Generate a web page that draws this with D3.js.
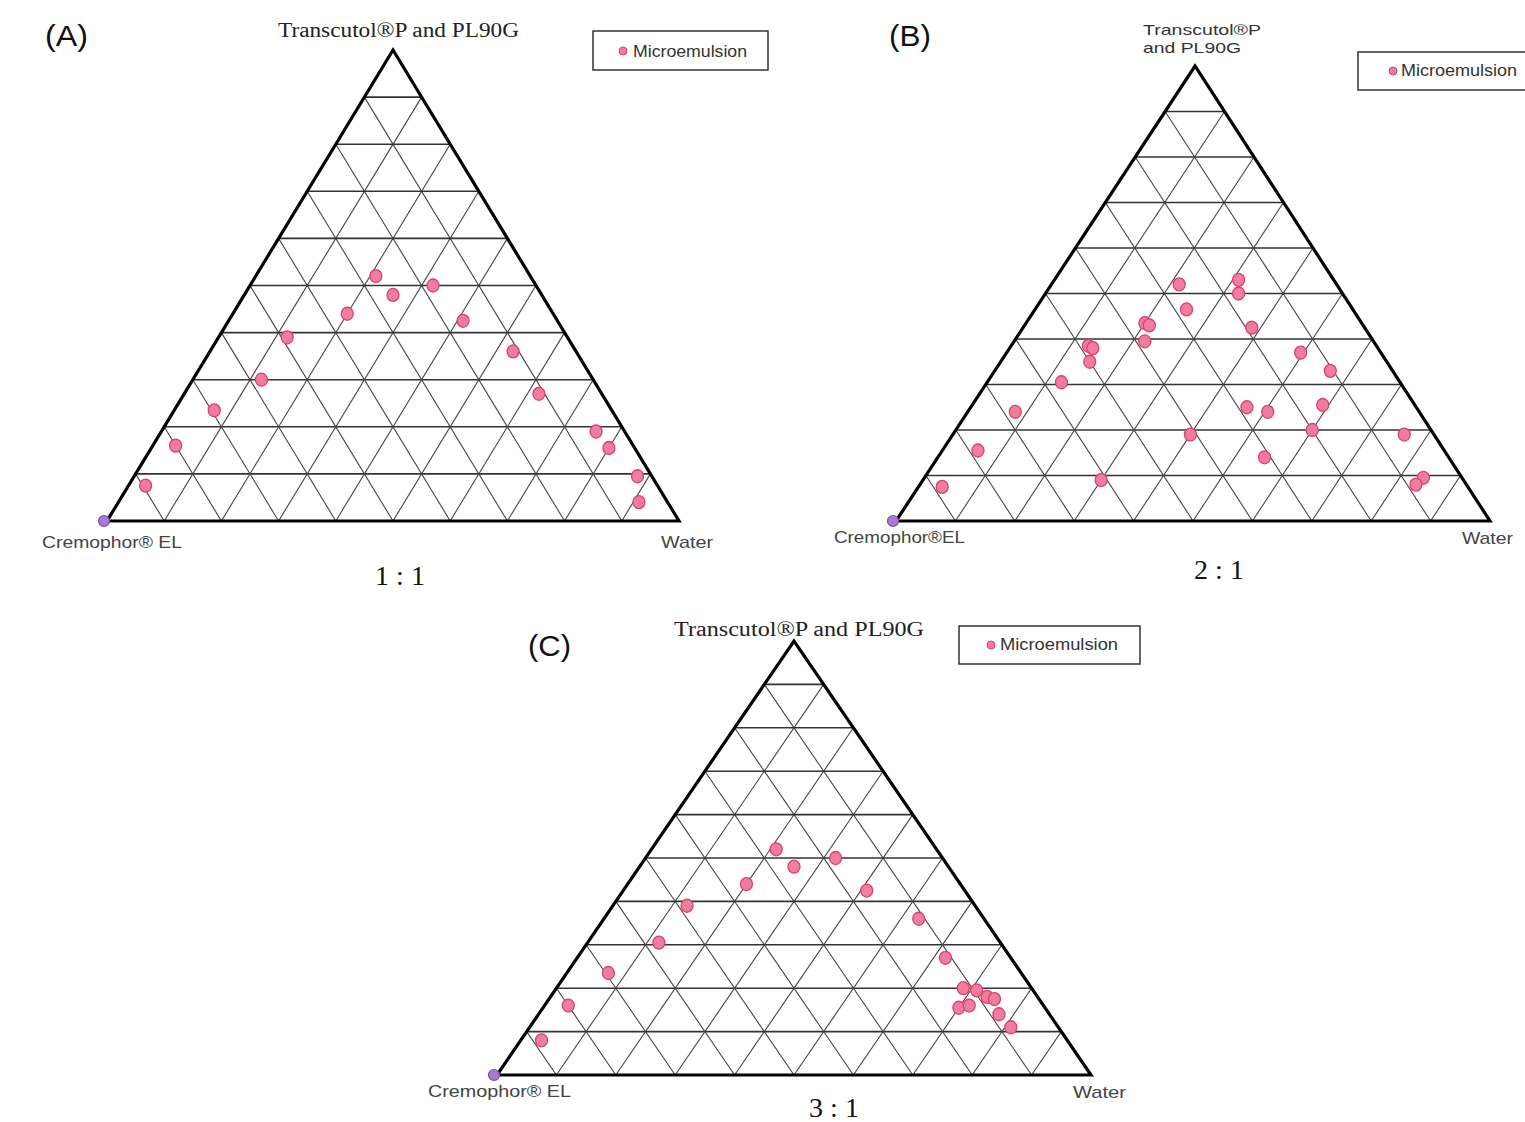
<!DOCTYPE html>
<html>
<head>
<meta charset="utf-8">
<script src="https://cdn.jsdelivr.net/npm/d3@7"></script>
<style>
  html, body { margin: 0; padding: 0; background: #fff; }
  svg { display: block; }
</style>
</head>
<body>
<svg id="chart" width="1525" height="1122"></svg>
<script>
// ---- Data (percent) ----
const gridTicks = [10, 20, 30, 40, 50, 60, 70, 80, 90];
const vertexLabels = ["Cremophor® EL", "Water", "Transcutol®P and PL90G"];
const ratioLabels = ["1 : 1", "2 : 1", "3 : 1"];
const panelLetters = ["(A)", "(B)", "(C)"];
const legendLabel = "Microemulsion";

// Panel A (1:1) — Transcutol®P and PL90G %, Water %
const a_transcutol = [52, 50, 48, 44, 42.5, 39, 36, 30, 27, 23.5, 19, 16, 15.5, 9.5, 7.5, 4];
const a_water      = [21, 32, 26, 20, 41, 12, 53, 12, 62, 7, 76, 4, 80, 88, 3, 91];

// Panel B (2:1)
const b_transcutol = [52, 53, 50, 46.5, 43.5, 43, 42.5, 39.5, 38.5, 38, 35, 37, 33, 30.5, 24, 25, 24, 25.5, 19, 20, 19, 15.5, 14, 7.5, 9, 9.5, 8];
const b_water      = [21.5, 31, 32.5, 25.5, 20, 21, 38.5, 22, 13, 14, 15, 49.5, 56.5, 12.5, 8, 46.5, 50.5, 59, 40, 60, 76, 6, 55, 4, 30, 84, 83.5];

// Panel C (3:1)
const c_transcutol = [52, 50, 48, 44, 42.5, 39, 36, 30.5, 27, 23.5, 20, 19.5, 18, 17.5, 15.5, 16, 14, 16, 11, 8];
const c_water      = [21, 32, 26, 20, 41, 12.5, 53, 12, 62, 7, 68.5, 71, 73.5, 75, 70, 71.5, 77.5, 4, 81, 3.5];

// ---- Layout ----
const panels = [
  { letter: panelLetters[0], oil: a_transcutol, water: a_water, ratio: ratioLabels[0],
    bl: [107, 521], br: [679, 521], top: [393, 50],
    letterPos: [45, 46], letterLen: 43,
    title: { type: "serif", x: 278, y: 37, len: 241, size: 20 },
    legend: { x: 593, y: 31, w: 175, h: 39, mx: 623, my: 51, tx: 633, ty: 57, tlen: 114 },
    cremo: { x: 42, y: 548, len: 140 }, waterL: { x: 661, y: 548, len: 52 },
    ratioPos: [400, 585] },
  { letter: panelLetters[1], oil: b_transcutol, water: b_water, ratio: ratioLabels[1],
    bl: [896, 521], br: [1490, 521], top: [1195, 66],
    letterPos: [889, 46], letterLen: 42,
    title: { type: "sans", x: 1143, y: 35, y2: 53, len: 118, len2: 98, size: 15 },
    legend: { x: 1358, y: 52, w: 175, h: 38, mx: 1393, my: 71, tx: 1401, ty: 76, tlen: 116 },
    cremo: { x: 834, y: 543, len: 131, noSpace: true }, waterL: { x: 1462, y: 544, len: 51 },
    ratioPos: [1219, 579] },
  { letter: panelLetters[2], oil: c_transcutol, water: c_water, ratio: ratioLabels[2],
    bl: [497, 1075], br: [1091, 1075], top: [794, 641],
    letterPos: [528, 656], letterLen: 43,
    title: { type: "serif", x: 674, y: 636, len: 250, size: 20 },
    legend: { x: 959, y: 626, w: 181, h: 38, mx: 991, my: 645, tx: 1000, ty: 650, tlen: 118 },
    cremo: { x: 428, y: 1097, len: 143 }, waterL: { x: 1073, y: 1098, len: 53 },
    ratioPos: [834, 1117] }
];

const svg = d3.select("#chart");

panels.forEach(p => {
  const g = svg.append("g");
  const xScale = d3.scaleLinear().domain([0, 100]).range([p.bl[0], p.br[0]]);
  const yScale = d3.scaleLinear().domain([0, 100]).range([p.bl[1], p.top[1]]);
  const f = (p.top[0] - p.bl[0]) / (p.br[0] - p.bl[0]);
  const px = (oil, water) => xScale(water + oil * f);
  const py = (oil) => yScale(oil);

  // grid lines
  const segs = [];
  gridTicks.forEach(v => {
    segs.push({ a: [v, 0], b: [v, 100 - v], h: true });        // constant oil
    segs.push({ a: [0, v], b: [100 - v, v], h: false });       // constant water
    segs.push({ a: [0, 100 - v], b: [100 - v, 0], h: false }); // constant cremophor
  });
  g.selectAll("line.grid").data(segs).join("line")
    .attr("class", "grid")
    .attr("x1", d => px(d.a[0], d.a[1])).attr("y1", d => py(d.a[0]))
    .attr("x2", d => px(d.b[0], d.b[1])).attr("y2", d => py(d.b[0]))
    .attr("stroke", d => d.h ? "#333" : "#444")
    .attr("stroke-width", d => d.h ? 1.6 : 1.1);

  // triangle outline
  const tri = [[0, 0], [0, 100], [100, 0]];
  g.append("path")
    .attr("d", d3.line()(tri.map(d => [px(d[0], d[1]), py(d[0])])) + "Z")
    .attr("fill", "none").attr("stroke", "#000").attr("stroke-width", 3.2)
    .attr("stroke-linejoin", "miter");

  // purple vertex marker at Cremophor corner
  g.append("circle")
    .attr("cx", px(0, 0) - 3).attr("cy", py(0)).attr("r", 5.5)
    .attr("fill", "#a87ad2").attr("stroke", "#7d4fa8").attr("stroke-width", 1.2);

  // data points
  const pts = p.oil.map((o, i) => ({ oil: o, water: p.water[i], cremo: 100 - o - p.water[i] }));
  g.selectAll("ellipse.pt").data(pts).join("ellipse")
    .attr("class", "pt")
    .attr("cx", d => px(d.oil, d.water)).attr("cy", d => py(d.oil))
    .attr("rx", 6).attr("ry", 6.5)
    .attr("fill", "#f07d9d").attr("stroke", "#d8426f").attr("stroke-width", 1.3);

  // panel letter
  g.append("text").attr("x", p.letterPos[0]).attr("y", p.letterPos[1])
    .attr("font-family", "Liberation Sans, Arial, sans-serif").attr("font-size", 29)
    .attr("fill", "#111").attr("textLength", p.letterLen).attr("lengthAdjust", "spacingAndGlyphs")
    .text(p.letter);

  // title
  if (p.title.type === "serif") {
    g.append("text").attr("x", p.title.x).attr("y", p.title.y)
      .attr("font-family", "Liberation Serif, Times New Roman, serif").attr("font-size", p.title.size)
      .attr("fill", "#222").attr("textLength", p.title.len).attr("lengthAdjust", "spacingAndGlyphs")
      .text(vertexLabels[2]);
  } else {
    g.append("text").attr("x", p.title.x).attr("y", p.title.y)
      .attr("font-family", "Liberation Sans, Arial, sans-serif").attr("font-size", p.title.size)
      .attr("fill", "#333").attr("textLength", p.title.len).attr("lengthAdjust", "spacingAndGlyphs")
      .text("Transcutol®P");
    g.append("text").attr("x", p.title.x).attr("y", p.title.y2)
      .attr("font-family", "Liberation Sans, Arial, sans-serif").attr("font-size", p.title.size)
      .attr("fill", "#333").attr("textLength", p.title.len2).attr("lengthAdjust", "spacingAndGlyphs")
      .text("and PL90G");
  }

  // legend
  const L = p.legend;
  g.append("rect").attr("x", L.x).attr("y", L.y).attr("width", L.w).attr("height", L.h)
    .attr("fill", "#fff").attr("stroke", "#333").attr("stroke-width", 1.5);
  g.append("circle").attr("cx", L.mx).attr("cy", L.my).attr("r", 4)
    .attr("fill", "#f07d9d").attr("stroke", "#d8426f").attr("stroke-width", 1);
  g.append("text").attr("x", L.tx).attr("y", L.ty)
    .attr("font-family", "Liberation Sans, Arial, sans-serif").attr("font-size", 16)
    .attr("fill", "#333").attr("textLength", L.tlen).attr("lengthAdjust", "spacingAndGlyphs")
    .text(legendLabel);

  // vertex labels
  g.append("text").attr("x", p.cremo.x).attr("y", p.cremo.y)
    .attr("font-family", "Liberation Sans, Arial, sans-serif").attr("font-size", 17)
    .attr("fill", "#444").attr("textLength", p.cremo.len).attr("lengthAdjust", "spacingAndGlyphs")
    .text(p.cremo.noSpace ? "Cremophor®EL" : vertexLabels[0]);
  g.append("text").attr("x", p.waterL.x).attr("y", p.waterL.y)
    .attr("font-family", "Liberation Sans, Arial, sans-serif").attr("font-size", 17)
    .attr("fill", "#444").attr("textLength", p.waterL.len).attr("lengthAdjust", "spacingAndGlyphs")
    .text(vertexLabels[1]);

  // ratio label
  g.append("text").attr("x", p.ratioPos[0]).attr("y", p.ratioPos[1])
    .attr("text-anchor", "middle")
    .attr("font-family", "Liberation Serif, Times New Roman, serif").attr("font-size", 28)
    .attr("fill", "#111").text(p.ratio);
});
</script>
</body>
</html>
